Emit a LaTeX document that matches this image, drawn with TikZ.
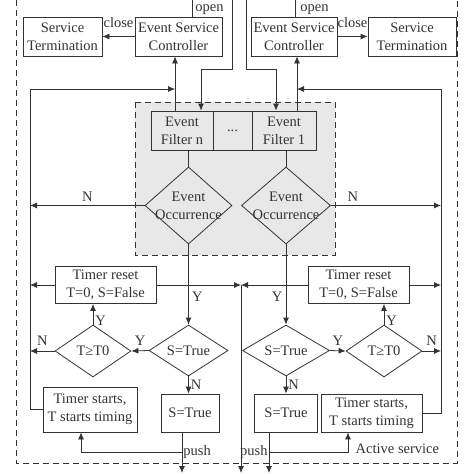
\documentclass[tikz,border=0pt]{standalone}
\usepackage{fontspec}
\setmainfont{Liberation Serif}
\usetikzlibrary{arrows.meta,shapes.geometric}
\begin{document}
\begin{tikzpicture}[x=1pt, y=-1pt, line width=0.8pt, color=black!80,
    font=\fontsize{14.5}{18}\selectfont,
    block/.style={rectangle, draw, align=center, inner sep=0pt},
    decision/.style={diamond, draw, inner sep=0pt},
    arr/.style={-{Latex[length=7pt,width=6pt]}}]
   \useasboundingbox (0,0) rectangle (474,474);

   % frames
   \draw[dashed, dash pattern=on 6pt off 4pt] (16,-20) rectangle (457,463);
   \draw[dashed, dash pattern=on 6pt off 4pt, fill=black!9] (135,102) rectangle (335,255);

   % rails and bends
   \coordinate (railL) at (30,0);
   \coordinate (railR) at (441,0);
   \coordinate (mid) at (241,0);
   \coordinate (bot) at (0,473);
   \coordinate (inL) at (232,-5);
   \coordinate (inR) at (246,-5);
   \coordinate (openL) at (192,-5);
   \coordinate (openR) at (295,-5);
   \coordinate (turn) at (0,69);
   \coordinate (loop) at (0,89);
   \coordinate (branch) at (0,452);

   \node[block, minimum width=87, minimum height=39] (escL) at (178.5,36.5) {Event Service\\Controller};
   \node[block, minimum width=86, minimum height=39] (escR) at (294,36.5) {Event Service\\Controller};
   \node[block, minimum width=79, minimum height=39] (stL) at (62.5,36.5) {Service\\Termination};
   \node[block, minimum width=88, minimum height=39] (stR) at (412,36.5) {Service\\Termination};

   \node[block, minimum width=62, minimum height=39] (fltn) at (182,130.5) {Event\\Filter n};
   \node[block, minimum width=39, minimum height=39] (dots) at (232.5,130.5) {...};
   \node[block, minimum width=64, minimum height=39] (flt1) at (284,130.5) {Event\\Filter 1};

   \node[decision, minimum width=87, minimum height=77,
         label={[align=center]center:Event\\Occurrence}] (eoL) at (188.5,205.5) {};
   \node[decision, minimum width=89, minimum height=77,
         label={[align=center]center:Event\\Occurrence}] (eoR) at (286,205.5) {};

   \node[block, minimum width=101, minimum height=37] (trL) at (105.5,285) {Timer reset\\T=0, S=False};
   \node[block, minimum width=101, minimum height=37] (trR) at (358.5,285) {Timer reset\\T=0, S=False};

   \node[decision, minimum width=79, minimum height=51, label={center:S=True}] (sdL) at (188.5,350.5) {};
   \node[decision, minimum width=87, minimum height=51, label={center:S=True}] (sdR) at (286,350.5) {};
   \node[decision, minimum width=76, minimum height=52, label={center:T≥T0}] (tdL) at (93,351) {};
   \node[decision, minimum width=76, minimum height=52, label={center:T≥T0}] (tdR) at (384,351) {};

   \node[block, minimum width=58, minimum height=38] (ssL) at (190,413) {S=True};
   \node[block, minimum width=63, minimum height=38] (ssR) at (286,413) {S=True};
   \node[block, minimum width=94, minimum height=45] (tsL) at (90,409.5) {Timer starts,\\T starts timing};
   \node[block, minimum width=101, minimum height=38] (tsR) at (371.5,413) {Timer starts,\\T starts timing};

   % top
   \draw (escL.north -| openL) -- (openL);
   \draw (escR.north -| openR) -- (openR);
   \node[anchor=base west, inner sep=0pt] (openLtext) at (195,11) {open};
   \node[anchor=base west, inner sep=0pt] (openRtext) at (300,11) {open};
   \draw[arr] (escL.west) -- (stL.east) node[midway, above=5pt] (closeL) {close};
   \draw[arr] (escR.east) -- (stR.west) node[midway, above=5pt] (closeR) {close};

   \draw[arr] (inL) |- ([xshift=19]fltn.north |- turn) -- ([xshift=19]fltn.north);
   \draw[arr] (inR) |- ([xshift=-8]flt1.north |- turn) -- ([xshift=-8]flt1.north);
   \draw[arr] ([xshift=-7]fltn.north) -- ([xshift=-7]fltn.north |- escL.south);
   \draw[arr] ([xshift=13]flt1.north) -- ([xshift=13]flt1.north |- escR.south);
   \draw[arr] (tsL.west) -| (railL |- loop) -- ([xshift=-7]fltn.north |- loop);
   \draw[arr] (tsR.east) -| (railR |- loop) -- ([xshift=13]flt1.north |- loop);

   % event occurrence
   \draw (eoL.north) -- (eoL.north |- fltn.south);
   \draw (eoR.north) -- (eoR.north |- flt1.south);
   \draw[arr] (eoL.west) -- (eoL.west -| railL) node[midway, above] (nL) {N};
   \draw[arr] (eoR.east) -- (eoR.east -| railR) node[pos=0.2, above] (nR) {N};
   \draw[arr] (eoL.south) -- (sdL.north) node[pos=0.65, right] (yL) {Y};
   \draw[arr] (eoR.south) -- (sdR.north) node[pos=0.65, left] (yR) {Y};

   % timer reset
   \draw[arr] (trL.west) -- (trL.west -| railL);
   \draw[arr] (trL.east) -- (trL.east -| mid);
   \draw[arr] (trR.west) -- (trR.west -| mid);
   \draw[arr] (trR.east) -- (trR.east -| railR);
   \draw[arr] (trL.east -| mid) -- (mid |- bot);

   % left decisions
   \draw[arr] (sdL.west) -- (tdL.east) node[midway, above=2pt] (ysL) {Y};
   \draw[arr] (tdL.north) -- (tdL.north |- trL.south) node[pos=0.2, right, inner sep=2pt] (ytL) {Y};
   \draw[arr] (tdL.west) -- (tdL.west -| railL) node[midway, above=2pt] (ntL) {N};
   \draw[arr] (sdL.south) -- (sdL.south |- ssL.north) node[midway, right, inner sep=2pt] (nsL) {N};

   % right decisions
   \draw[arr] (sdR.east) -- (tdR.west) node[midway, above=2pt] (ysR) {Y};
   \draw[arr] (tdR.north) -- (tdR.north |- trR.south) node[pos=0.2, right, inner sep=2pt] (ytR) {Y};
   \draw[arr] (tdR.east) -- (tdR.east -| railR) node[midway, above=2pt] (ntR) {N};
   \draw[arr] (sdR.south) -- (sdR.south |- ssR.north) node[midway, right, inner sep=2pt] (nsR) {N};

   % push
   \draw[arr] ([xshift=-8]ssL.south) -- ([xshift=-8]ssL.south |- bot);
   \draw[arr] ([xshift=-8]ssL.south |- branch) node[right, inner sep=1pt] (pushL) {push}
      -| ([xshift=-9]tsL.south);
   \draw[arr] ([xshift=-17]ssR.south) -- ([xshift=-17]ssR.south |- bot);
   \draw[arr] ([xshift=-17]ssR.south |- branch) node[left, inner sep=1pt] (pushR) {push}
      -| ([xshift=-23.5]tsR.south) ;
   \node[anchor=west] (active) at (352,449) {Active service};
 \end{tikzpicture}
\end{document}
